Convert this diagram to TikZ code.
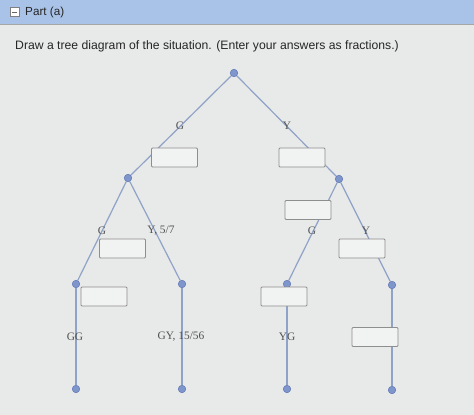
\documentclass[tikz,border=0pt]{standalone}
\usepackage{fontspec}
\setmainfont{Liberation Serif}
\newfontfamily\uifont{Liberation Sans}
\usepackage{tikz}
\usetikzlibrary{calc,backgrounds}
\definecolor{pagegray}{HTML}{E8E9E9}
\definecolor{barblue}{HTML}{A9C3E8}
\definecolor{edgeblue}{HTML}{8FA2C8}
\definecolor{dotblue}{HTML}{7E96CC}
\definecolor{dotrim}{HTML}{5B74B4}
\definecolor{boxrim}{HTML}{8E8E8E}
\definecolor{labgray}{HTML}{525252}
\newcommand{\edgecolor}{edgeblue}
\newcommand{\dotsize}{7.5pt}

\begin{document}
\begin{tikzpicture}[x=1pt,y=-1pt,
  dot/.style={circle,fill=dotblue,draw=dotrim,line width=0.5pt,inner sep=0pt,minimum size=\dotsize},
  branch/.style={draw=\edgecolor,line width=1.2pt},
  answer/.style={draw=boxrim,fill=pagegray!60!white,line width=0.8pt,rounded corners=1pt,minimum width=46pt,minimum height=19pt,inner sep=0pt},
  tag/.style={text=labgray,font=\fontsize{11.4}{13}\selectfont,inner sep=0pt}]
\useasboundingbox (0,0) rectangle (474,415);
\fill[barblue] (0,0) rectangle (474,24);
\draw[gray!70,line width=0.6pt] (0,24) -- (474,24);
% header
\node[draw=gray,fill=white,minimum size=9pt,inner sep=0pt,line width=0.6pt] (fold) at (14.5,12) {};
\draw[gray!80!black,line width=0.8pt] ($(fold.center)+(-2.5,0)$) -- ($(fold.center)+(2.5,0)$);
\node[anchor=west,inner sep=0pt,font=\uifont\fontsize{11.7}{13}\selectfont,text=black!85] (part) at (25,12) {Part (a)};
\node[anchor=west,inner sep=0pt,font=\uifont\fontsize{12.2}{14}\selectfont,text=black!85] (task) at (15,46.5) {Draw a tree diagram of the situation. (Enter your answers as fractions.)};
% tree nodes
\node[dot] (root) at (234,73) {};
\node[dot] (g) at (128,178) {};
\node[dot] (y) at (339,179) {};
\node[dot] (gg) at (76,284) {};
\node[dot] (gy) at (182,284) {};
\node[dot] (yg) at (287,284) {};
\node[dot] (yy) at (392,285) {};
\node[dot] (gg2) at (76,389) {};
\node[dot] (gy2) at (182,389) {};
\node[dot] (yg2) at (287,389) {};
\node[dot] (yy2) at (392,390) {};
% branches
\begin{scope}[on background layer]
\fill[pagegray] (0,24) rectangle (474,415);
\draw[branch] (root) -- (g);
\draw[branch] (root) -- (y);
\draw[branch] (g) -- (gg);
\draw[branch] (g) -- (gy);
\draw[branch] (y) -- (yg);
\draw[branch] (y) -- (yy);
\draw[branch] (gg) -- (gg2);
\draw[branch] (gy) -- (gy2);
\draw[branch] (yg) -- (yg2);
\draw[branch] (yy) -- (yy2);
\end{scope}
% answer boxes
\node[answer] (pg) at (174.5,157.5) {};
\node[answer] (py) at (302,157.5) {};
\node[answer] (pgg) at (122.5,248.5) {};
\node[answer] (pyg) at (308,210) {};
\node[answer] (pyy) at (362,248.5) {};
\node[answer] (pggg) at (104,296.5) {};
\node[answer] (pygg) at (284,296.5) {};
\node[answer] (pyyy) at (375,337) {};
% labels
\node[tag] (lg) at (180,126) {G};
\node[tag] (ly) at (287,126) {Y};
\node[tag] (lgg) at (102,231) {G};
\node[tag] (lgy) at (161,231) {Y, 5/7};
\node[tag] (lyg) at (312,231) {G};
\node[tag] (lyy) at (366,231) {Y};
\node[tag] (lggg) at (75,337) {GG};
\node[tag] (lgyy) at (181,337) {GY, 15/56};
\node[tag] (lygg) at (287,337) {YG};
\end{tikzpicture}
\end{document}
